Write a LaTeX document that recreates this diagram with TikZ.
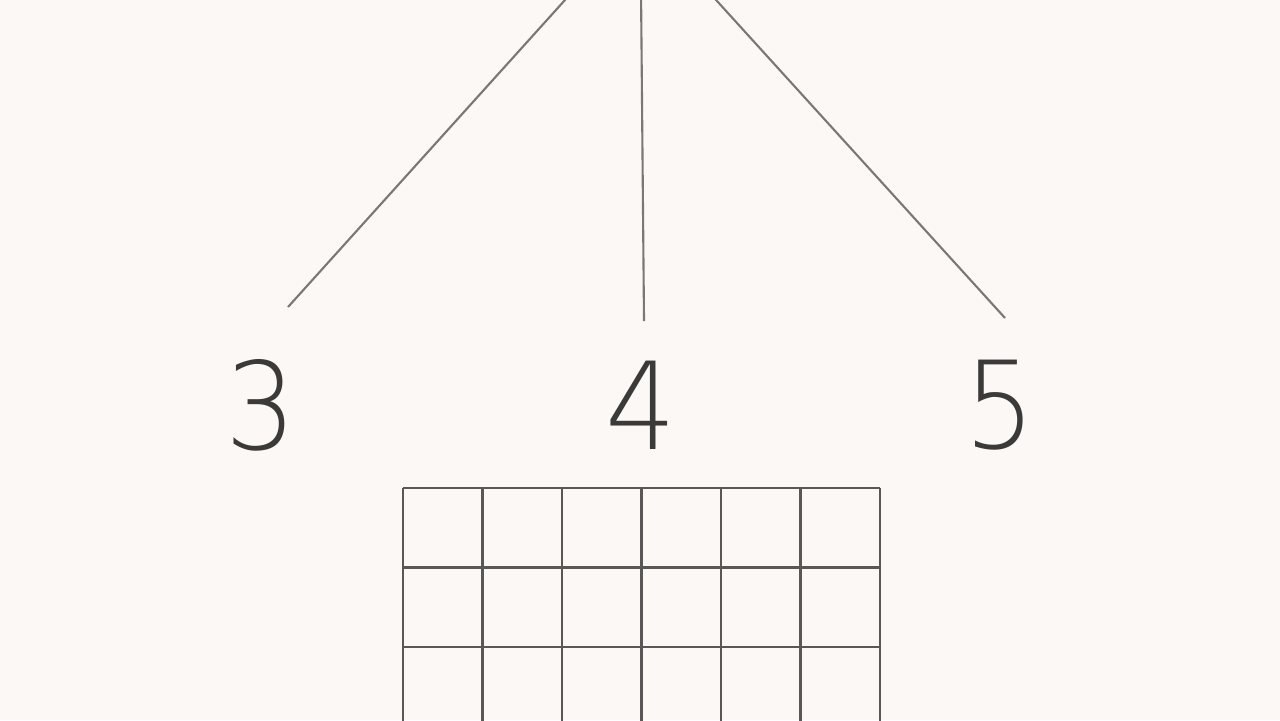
\documentclass[tikz,border=0pt]{standalone}
\usepackage{fontspec}
\setmainfont{DejaVu Sans ExtraLight}
\newfontfamily\thindigits[FakeStretch=0.92]{DejaVu Sans ExtraLight}
\definecolor{paper}{HTML}{FBF8F5}
\definecolor{branch}{HTML}{7A7876}
\definecolor{ink}{HTML}{3C3A38}
\definecolor{cell}{HTML}{5A5856}
\tikzset{
  digit/.style={text=ink, font=\thindigits\fontsize{34.5}{36}\selectfont, inner sep=0pt},
  branchline/.style={draw=branch, line width=0.6pt},
  gridline/.style={draw=cell, line width=0.7pt}
}
\begin{document}
\begin{tikzpicture}[x=0.01cm, y=-0.01cm]
      \fill[paper] (0,0) rectangle (1280,720);
      \useasboundingbox (0,0) rectangle (1280,720);
      \clip (0,0) rectangle (1280,720);
      \draw
        (261,405) node[digit] (n3){3}
        (641,405) node[digit] (n4){4}
        (1000,405) node[digit] (n5){5};
      \coordinate (t3) at (574,-10);
      \coordinate (t4) at (641,-10);
      \coordinate (t5) at (707,-10);
      \coordinate (e3) at (288,307);
      \coordinate (e4) at (644,321);
      \coordinate (e5) at (1005,318);
      \begin{scope}[branchline]
        \draw (t3) to (e3);
        \draw (t4) to (e4);
        \draw (t5) to (e5);
      \end{scope}
      % table below the numbers
      \foreach \i in {0,...,6}
        \draw[gridline] (403+79.5*\i,488) -- (403+79.5*\i,740);
      \foreach \j in {0,...,3}
        \draw[gridline] (403,488+79.5*\j) -- (880,488+79.5*\j);
    \end{tikzpicture}
\end{document}
